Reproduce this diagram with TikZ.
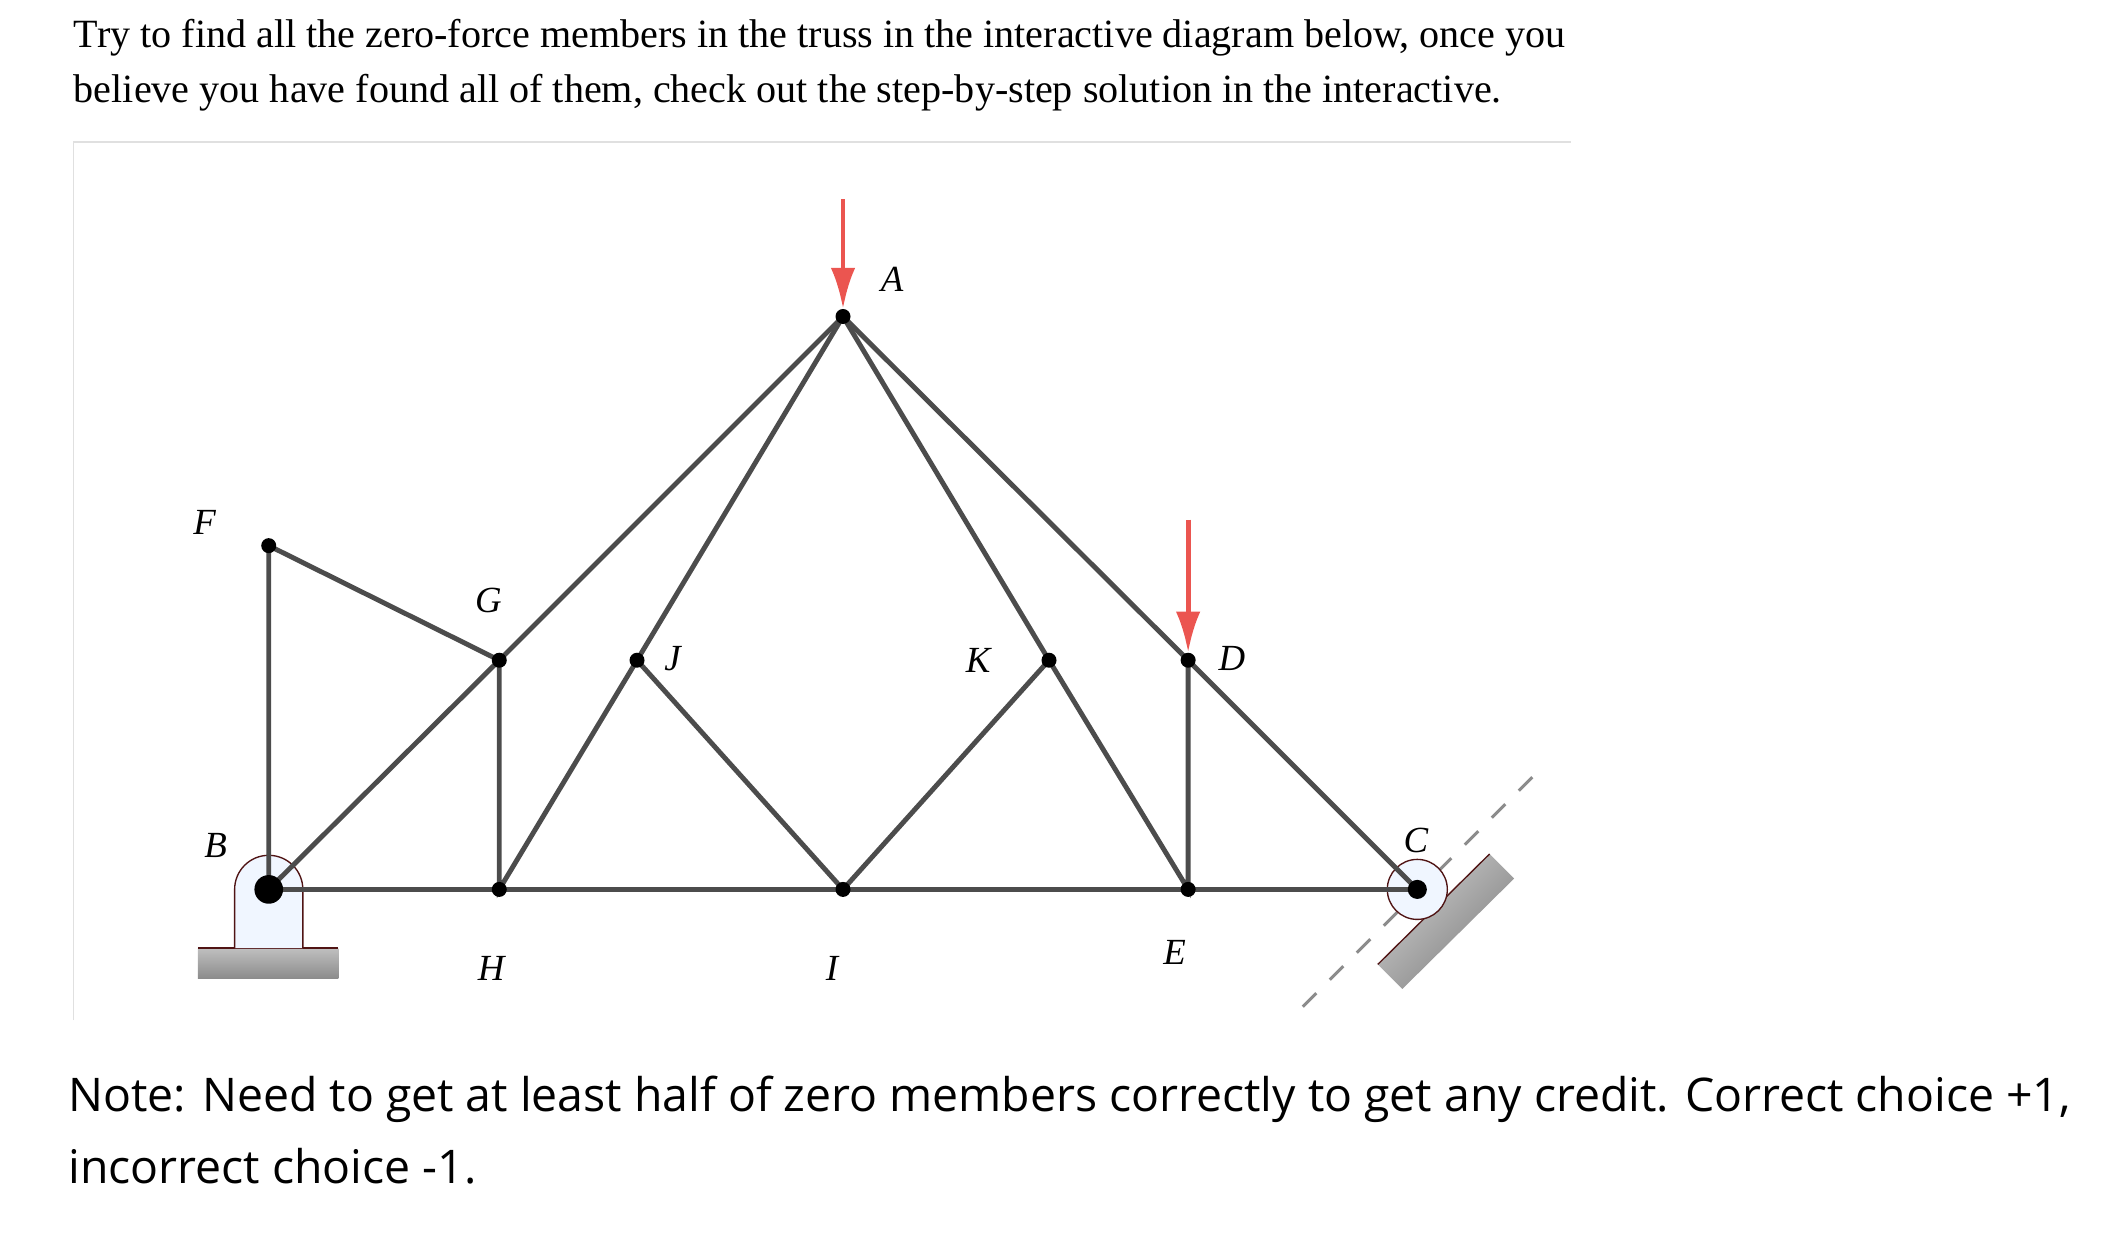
\documentclass[tikz,border=0pt]{standalone}
\usepackage{fontspec}
\setmainfont{Liberation Serif}
\newfontfamily\notefont{Open Sans}
\usetikzlibrary{arrows.meta}
\begin{document}
\begin{tikzpicture}[x=1pt,y=-1pt,
  member/.style={line width=3.6pt,draw=black!70},
  joint/.style={circle,fill=black,inner sep=0pt,minimum size=11pt},
  lbl/.style={font=\fontsize{27}{27}\selectfont\itshape},
  load/.style={draw={rgb,255:red,235;green,85;blue,80},line width=3.5pt,-{Latex[length=30pt,width=18pt]}},
  outl/.style={draw={rgb,255:red,80;green,20;blue,20},line width=1pt}]
\useasboundingbox (0,0) rectangle (1560,919);
% header text
\begin{scope}
\clip (0,0) rectangle (1152,100);
\node[anchor=west,inner sep=0pt,font=\fontsize{29.4}{29.4}\selectfont] (t1) at (54,28) {Try to find all the zero-force members in the truss in the interactive diagram below, once you};
\node[anchor=west,inner sep=0pt,font=\fontsize{29.4}{29.4}\selectfont] (t2) at (54,68) {believe you have found all of them, check out the step-by-step solution in the interactive.};
\end{scope}
\draw[black!12,line width=1.2pt] (54,748) -- (54,104) -- (1152,104);
% coordinates
\coordinate (A) at (618,232); \coordinate (F) at (197,400);
\coordinate (G) at (366,484); \coordinate (J) at (467,484);
\coordinate (K) at (769,484); \coordinate (D) at (871,484);
\coordinate (B) at (197,652); \coordinate (H) at (366,652);
\coordinate (I) at (618,652); \coordinate (E) at (871,652);
\coordinate (C) at (1039,652);
% incline support
\draw[black!45,line width=2.2pt,dash pattern=on 14pt off 14pt] (955,738) -- (1125,568);
\shade[left color=black!20,right color=black!50,shading angle=45] (1010,707) -- (1092,626) -- (1110,644) -- (1028,725) -- cycle;
\draw[outl] (1010,707) -- (1092,626);
\draw[outl,fill={rgb,255:red,240;green,246;blue,255}] (C) circle (22);
% pin support
\shade[top color=black!25,bottom color=black!45] (145,695) rectangle (248,717);
\draw[outl,line width=1.5pt] (145,695) -- (248,695);
\draw[outl,fill={rgb,255:red,240;green,246;blue,255}] (172,695) -- (172,652) arc[start angle=180,end angle=360,radius=25] -- (222,695);
% members
\draw[member] (B) -- (C);
\draw[member] (B) -- (F) -- (G) -- (A) -- (D) -- (C);
\draw[member] (B) -- (G) -- (H) -- (J) -- (A) -- (K) -- (E) -- (D);
\draw[member] (J) -- (I) -- (K);
% joints
\foreach \p in {A,F,G,J,K,D,H,I,E} \node[joint] (n\p) at (\p) {};
\node[joint,minimum size=21pt] (nB) at (B) {};
\node[joint,minimum size=14pt] (nC) at (C) {};
% loads
\coordinate (LA) at (618,146); \coordinate (LD) at (871,381);
\draw[load] (LA) -- (nA.north);
\draw[load] (LD) -- (nD.north);
% labels
\node[lbl] (lA) at (654,205) {A};
\node[lbl] (lF) at (150,383) {F};
\node[lbl] (lG) at (358,440) {G};
\node[lbl] (lJ) at (493,483) {J};
\node[lbl] (lK) at (717,484) {K};
\node[lbl] (lD) at (903,483) {D};
\node[lbl] (lB) at (158,620) {B};
\node[lbl] (lH) at (360,710) {H};
\node[lbl] (lI) at (610,710) {I};
\node[lbl] (lE) at (861,698) {E};
\node[lbl] (lC) at (1038,616) {C};
% note
\node[anchor=west,inner sep=0pt,font=\notefont\fontsize{34}{34}\selectfont] (n1) at (50,806) {Note: Need to get at least half of zero members correctly to get any credit. Correct choice +1,};
\node[anchor=west,inner sep=0pt,font=\notefont\fontsize{34}{34}\selectfont] (n2) at (50,855) {incorrect choice -1.};
\end{tikzpicture}
\end{document}
